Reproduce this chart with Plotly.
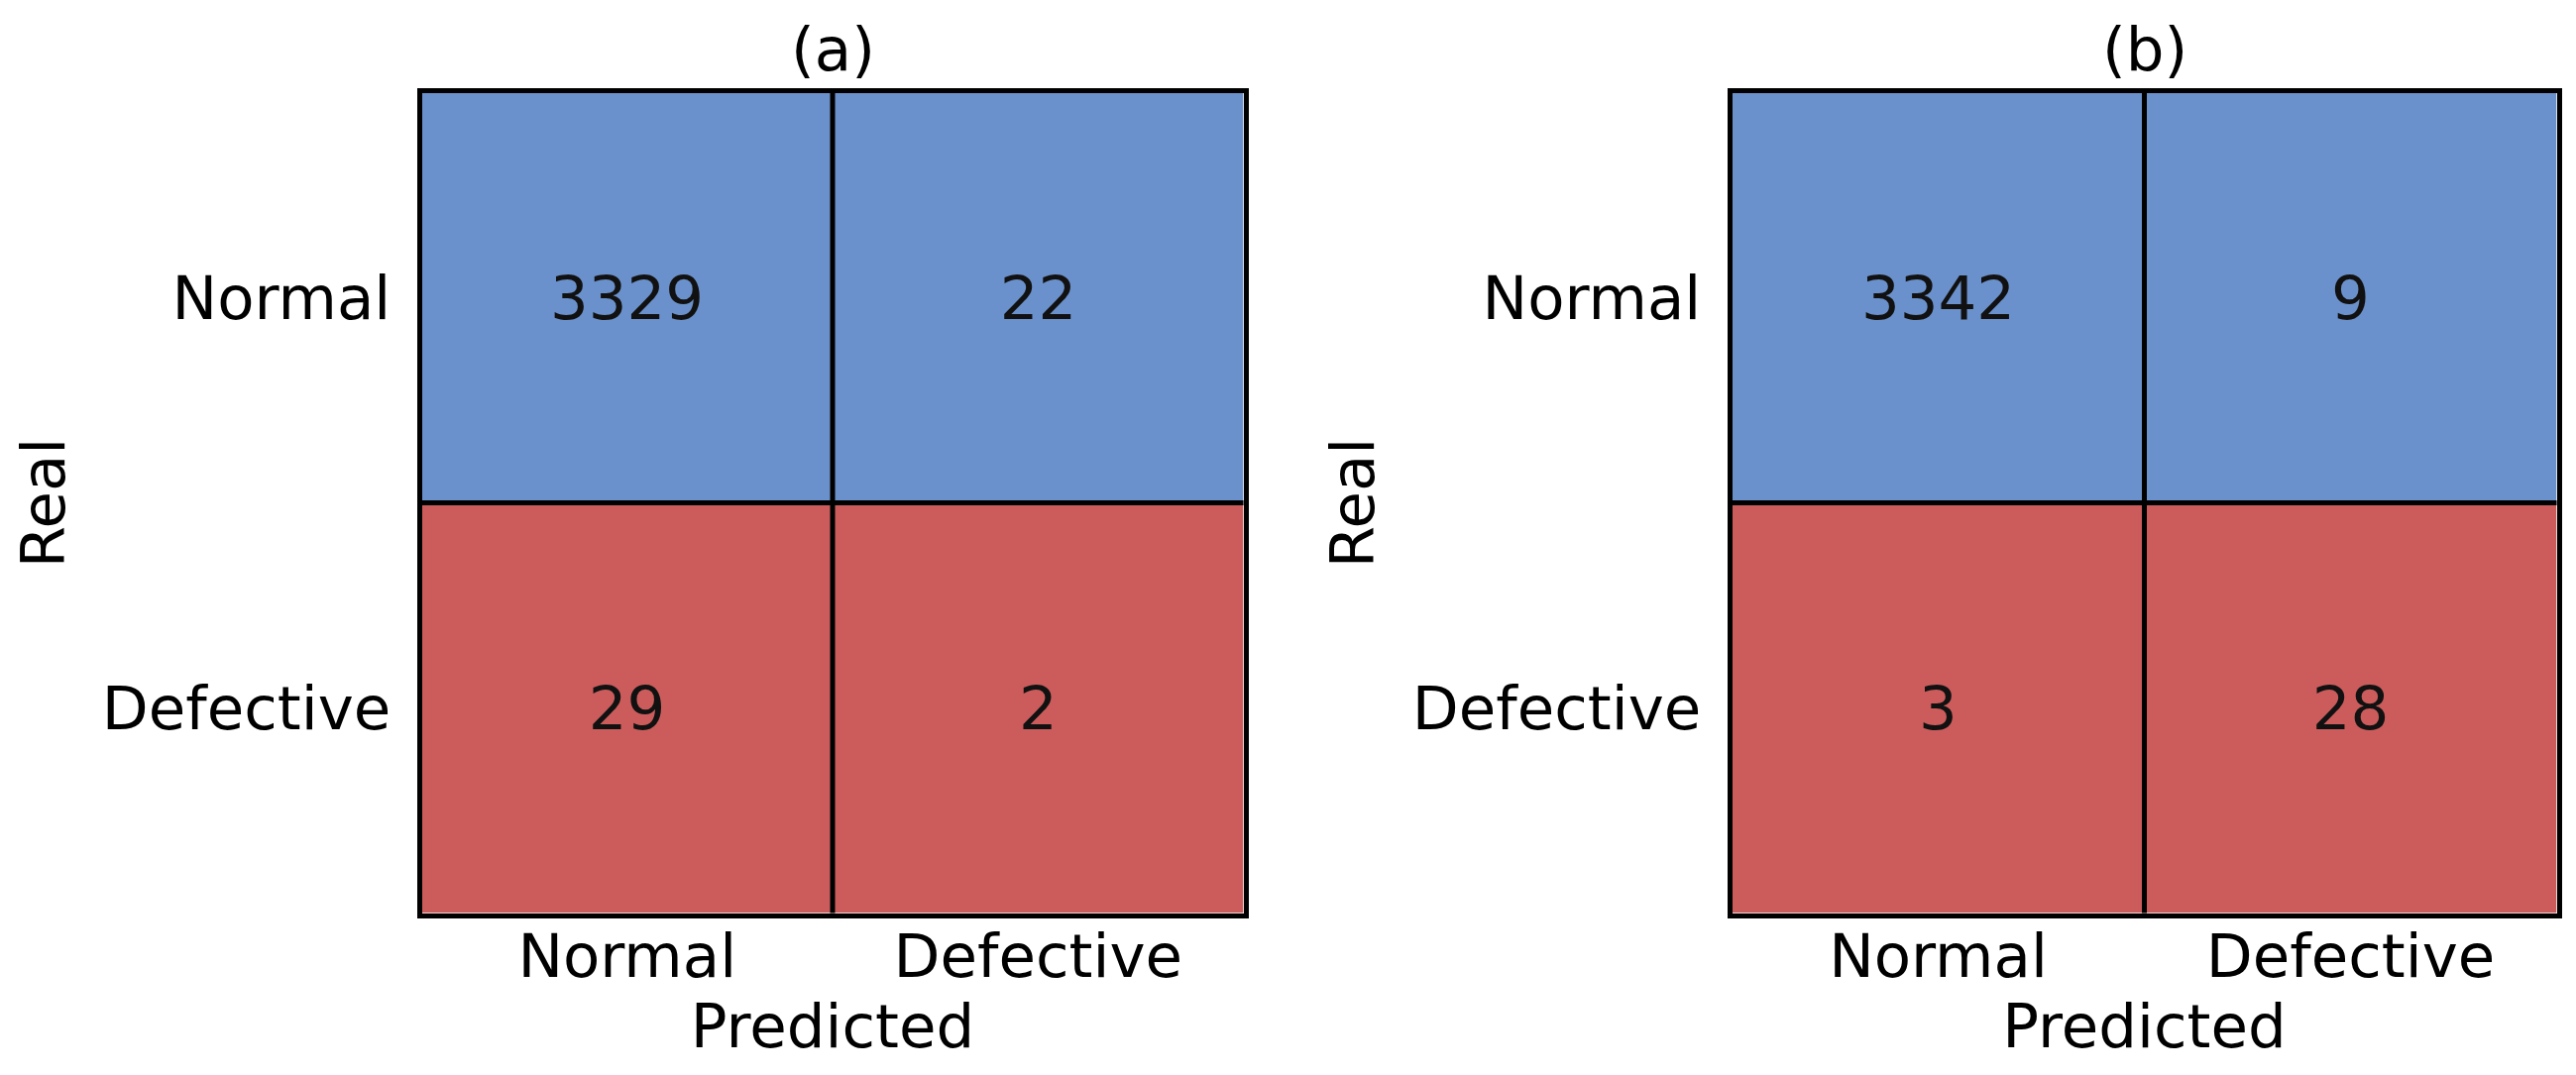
import plotly.graph_objects as go
from plotly.subplots import make_subplots

# %%
# Confusion matrices (rows = real class, cols = predicted class)

labels = ["Normal", "Defective"]
panel_titles = ["(a)", "(b)"]
cm_a = [[3329, 22], [29, 2]]
cm_b = [[3342, 9], [3, 28]]

row_colors = ["#6a91cb", "#cc5c5c"]
font_family = "DejaVu Sans"
font_size = 61
line_w = 5

W, H = 2599, 1085

# %%

fig = make_subplots(rows=1, cols=2, horizontal_spacing=0.1)

# cells coloured by the real class (row)
z_rows = [[i] * len(labels) for i in range(len(labels))]
colorscale = [[0, row_colors[0]], [1, row_colors[1]]]

for idx, cm in enumerate([cm_a, cm_b]):
    fig.add_trace(
        go.Heatmap(
            x=labels,
            y=labels,
            z=z_rows,
            text=[[str(v) for v in row] for row in cm],
            texttemplate="%{text}",
            textfont=dict(family=font_family, size=font_size, color="#111111"),
            colorscale=colorscale,
            zmin=0,
            zmax=1,
            showscale=False,
            hoverinfo="skip",
        ),
        row=1,
        col=idx + 1,
    )

    xref = "x" if idx == 0 else "x2"
    yref = "y" if idx == 0 else "y2"
    # inner grid lines between cells
    fig.add_shape(
        type="line", xref=xref, yref=f"{yref} domain",
        x0=0.5, x1=0.5, y0=0, y1=1,
        line=dict(color="black", width=line_w),
    )
    fig.add_shape(
        type="line", xref=f"{xref} domain", yref=yref,
        x0=0, x1=1, y0=0.5, y1=0.5,
        line=dict(color="black", width=line_w),
    )

# box positions in pixels (axis lines sit just outside the domain)
x_domains = [[417.5 / W, 1246.5 / W], [1739.5 / W, 2571.5 / W]]
y_domain = [1 - 913.5 / H, 1 - 85.5 / H]

axis_font = dict(family=font_family, size=font_size, color="black")

for idx in range(2):
    fig.update_xaxes(
        domain=x_domains[idx],
        type="category",
        showgrid=False,
        zeroline=False,
        showline=True,
        mirror=True,
        linecolor="black",
        linewidth=line_w,
        ticks="",
        ticklabelstandoff=-14,
        tickfont=axis_font,
        title=dict(text="Predicted", font=axis_font, standoff=6),
        row=1,
        col=idx + 1,
    )
    fig.update_yaxes(
        domain=y_domain,
        type="category",
        autorange="reversed",
        showgrid=False,
        zeroline=False,
        showline=True,
        mirror=True,
        linecolor="black",
        linewidth=line_w,
        ticks="",
        ticklabelstandoff=14,
        tickfont=axis_font,
        title=dict(text="Real", font=axis_font, standoff=20),
        row=1,
        col=idx + 1,
    )
    fig.add_annotation(
        text=panel_titles[idx],
        x=sum(x_domains[idx]) / 2,
        y=1 - 42 / H,
        xref="paper",
        yref="paper",
        xanchor="center",
        yanchor="middle",
        showarrow=False,
        font=axis_font,
    )

fig.update_layout(
    width=W,
    height=H,
    margin=dict(l=0, r=0, t=0, b=0),
    paper_bgcolor="white",
    plot_bgcolor="white",
    font=dict(family=font_family),
)

fig.write_html("out.html")
